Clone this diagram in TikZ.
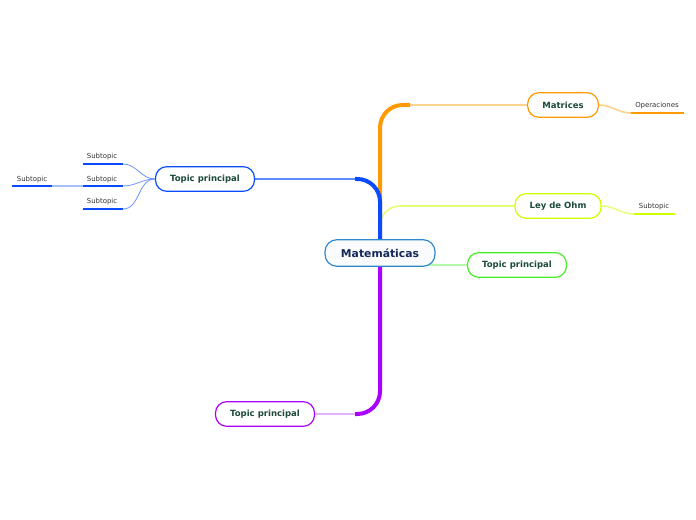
\documentclass[tikz,border=0pt]{standalone}
\usepackage{fontspec}
\setmainfont{DejaVu Sans}
\usetikzlibrary{backgrounds}

\definecolor{rootblue}{HTML}{2F86CC}
\definecolor{rootink}{HTML}{14285A}
\definecolor{topink}{HTML}{1B4A3A}
\definecolor{morange}{HTML}{FF9900}
\definecolor{mblue}{HTML}{0A4BFF}
\definecolor{myellow}{HTML}{CCFF00}
\definecolor{mgreen}{HTML}{44EE22}
\definecolor{mpurple}{HTML}{AA00FF}

\begin{document}
\begin{tikzpicture}[x=0.75pt,y=-0.75pt,
    root/.style={draw=rootblue,line width=0.9pt,fill=rootblue!3,rounded corners=9pt,inner xsep=12pt,minimum height=20pt,font=\fontsize{8.1}{9}\selectfont\bfseries,text=rootink},
    topic/.style={draw=#1,line width=0.9pt,fill=white,rounded corners=8.5pt,inner xsep=11pt,minimum height=18.5pt,font=\fontsize{6.4}{8}\selectfont\bfseries,text=topink},
    subtext/.style={font=\fontsize{5.2}{6}\selectfont,text=black!80},
    trunk/.style={line width=3pt,#1,rounded corners=17pt},
    twig/.style={line width=1.2pt,#1},
    underline/.style={line width=1.5pt,#1}]
\useasboundingbox (0,0) rectangle (696,520);

\node[root] (root) at (380,253) {Matemáticas};

    \node[topic=morange] (mat) at (563,105) {Matrices};
    \node[topic=myellow] (ohm) at (558,206) {Ley de Ohm};
    \node[topic=mgreen] (tpg) at (517,265) {Topic principal};
    \node[topic=mpurple] (tpp) at (265,414) {Topic principal};
    \node[topic=mblue] (tpb) at (205,179) {Topic principal};

    \node[subtext] (op) at (657,106) {Operaciones};
    \node[subtext] (so) at (654,207) {Subtopic};
    \node[subtext] (sa) at (102,157) {Subtopic};
    \node[subtext] (sb) at (102,180) {Subtopic};
    \node[subtext] (sc) at (102,202) {Subtopic};
    \node[subtext] (sd) at (32,180) {Subtopic};

    \coordinate (opl) at (631,113); \coordinate (opr) at (684,113);
    \coordinate (sol) at (634,214); \coordinate (sor) at (675,214);
    \coordinate (sal) at (83,164); \coordinate (sar) at (123,164);
    \coordinate (sbl) at (83,186); \coordinate (sbr) at (123,186);
    \coordinate (scl) at (83,209); \coordinate (scr) at (123,209);
    \coordinate (sdl) at (12,186); \coordinate (sdr) at (52,186);

    \coordinate (ko) at (410,105);
    \coordinate (kb) at (355,179);
    \coordinate (kp) at (355,414);

\begin{pgfonlayer}{background}
     \draw[twig=myellow!55,rounded corners=15pt] (root.north) |- (ohm.west);
     \draw[trunk=morange] (root.north) |- (ko);
     \draw[twig=morange!45] (ko) -- (mat.west);
     \draw[trunk=mblue] (root.north) |- (kb);
     \draw[line width=0.8pt,mblue!65] (kb) -- (tpb.east);
     \draw[trunk=mpurple] (root.south) |- (kp);
     \draw[twig=mpurple!30] (kp) -- (tpp.east);
     \draw[line width=1.5pt,mgreen!40] (tpg.west) -- (tpg.west -| root.center);
\end{pgfonlayer}

     \draw[twig=morange!45] (mat.east) to[out=0,in=180] (opl);
     \draw[underline=morange] (opl) -- (opr);
     \draw[twig=myellow!50] (ohm.east) to[out=0,in=180] (sol);
     \draw[underline=myellow] (sol) -- (sor);
     \foreach \s in {sa,sb,sc}
         \draw[line width=0.6pt,mblue!60] (tpb.west) to[out=180,in=0] (\s r);
     \foreach \s in {sa,sb,sc,sd}
         \draw[underline=mblue] (\s l) -- (\s r);
     \draw[line width=1pt,mblue!35] (sbl) -- (sdr);
\end{tikzpicture}
\end{document}
